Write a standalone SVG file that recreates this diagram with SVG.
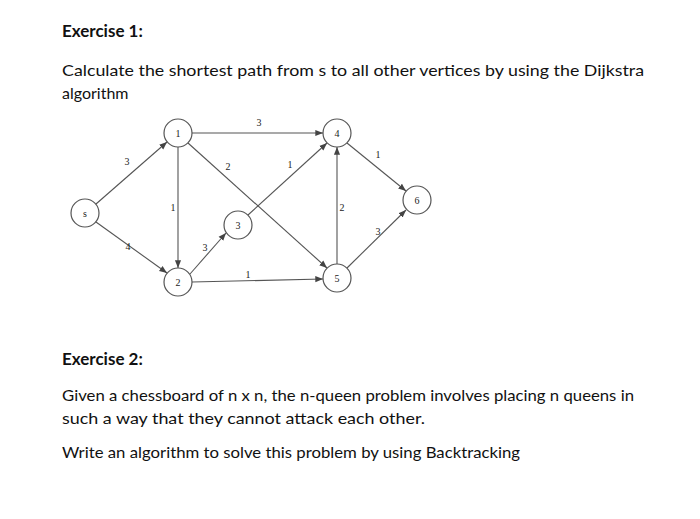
<svg xmlns="http://www.w3.org/2000/svg" width="700" height="519" viewBox="0 0 700 519">
<style>
.t{font-family:Lato,"Open Sans",sans-serif;font-size:16px;fill:#111}
.h{font-family:Lato,"Open Sans",sans-serif;font-size:17px;font-weight:bold;fill:#111}
.n circle{fill:#fff;stroke:#555;stroke-width:1.2}
.n text,.l{font-family:"Liberation Serif",serif;font-size:10px;fill:#222;text-anchor:middle}
.e line{stroke:#555;stroke-width:1.1;marker-end:url(#a)}
</style>
<defs><marker id="a" viewBox="0 0 10 10" refX="10" refY="5" markerWidth="7" markerHeight="7" orient="auto"><path d="M0,1L10,5L0,9z" fill="#444"/></marker></defs>
<rect width="700" height="519" fill="#fff"/>
<text class="h" x="62" y="37">Exercise 1:</text>
<text class="t" x="62" y="76" textLength="582" lengthAdjust="spacingAndGlyphs">Calculate the shortest path from s to all other vertices by using the Dijkstra</text>
<text class="t" x="62" y="99">algorithm</text>
<g class="e">
<line x1="96" y1="204" x2="167" y2="142"/>
<line x1="96" y1="222" x2="167" y2="273"/>
<line x1="192" y1="133" x2="323" y2="133"/>
<line x1="178" y1="147" x2="178" y2="268"/>
<line x1="188" y1="143" x2="327" y2="268"/>
<line x1="190" y1="274" x2="226" y2="233"/>
<line x1="192" y1="282" x2="323" y2="279"/>
<line x1="248" y1="215" x2="327" y2="143"/>
<line x1="337" y1="264" x2="337" y2="147"/>
<line x1="347" y1="143" x2="406" y2="191"/>
<line x1="347" y1="268" x2="406" y2="210"/>
</g>
<g class="lbl">
<text class="l" x="127" y="165">3</text>
<text class="l" x="128" y="250">4</text>
<text class="l" x="259" y="126">3</text>
<text class="l" x="173" y="211">1</text>
<text class="l" x="228" y="170">2</text>
<text class="l" x="290" y="168">1</text>
<text class="l" x="205" y="251">3</text>
<text class="l" x="248" y="278">1</text>
<text class="l" x="342" y="211">2</text>
<text class="l" x="378" y="158">1</text>
<text class="l" x="378" y="235">3</text>
</g>
<g id="ns" class="n"><circle cx="85" cy="213" r="14"/><text x="85" y="217">s</text></g>
<g id="n1" class="n"><circle cx="178" cy="133" r="14"/><text x="178" y="137">1</text></g>
<g id="n2" class="n"><circle cx="178" cy="282" r="14"/><text x="178" y="286">2</text></g>
<g id="n3" class="n"><circle cx="238" cy="225" r="14"/><text x="238" y="229">3</text></g>
<g id="n4" class="n"><circle cx="337" cy="133" r="14"/><text x="337" y="137">4</text></g>
<g id="n5" class="n"><circle cx="337" cy="278" r="14"/><text x="337" y="282">5</text></g>
<g id="n6" class="n"><circle cx="417" cy="200" r="14"/><text x="417" y="204">6</text></g>
<text class="h" x="62" y="365">Exercise 2:</text>
<text class="t" x="62" y="401" textLength="572" lengthAdjust="spacingAndGlyphs">Given a chessboard of n x n, the n-queen problem involves placing n queens in</text>
<text class="t" x="62" y="424" textLength="363" lengthAdjust="spacingAndGlyphs">such a way that they cannot attack each other.</text>
<text class="t" x="62" y="458" textLength="458" lengthAdjust="spacingAndGlyphs">Write an algorithm to solve this problem by using Backtracking</text>
</svg>
